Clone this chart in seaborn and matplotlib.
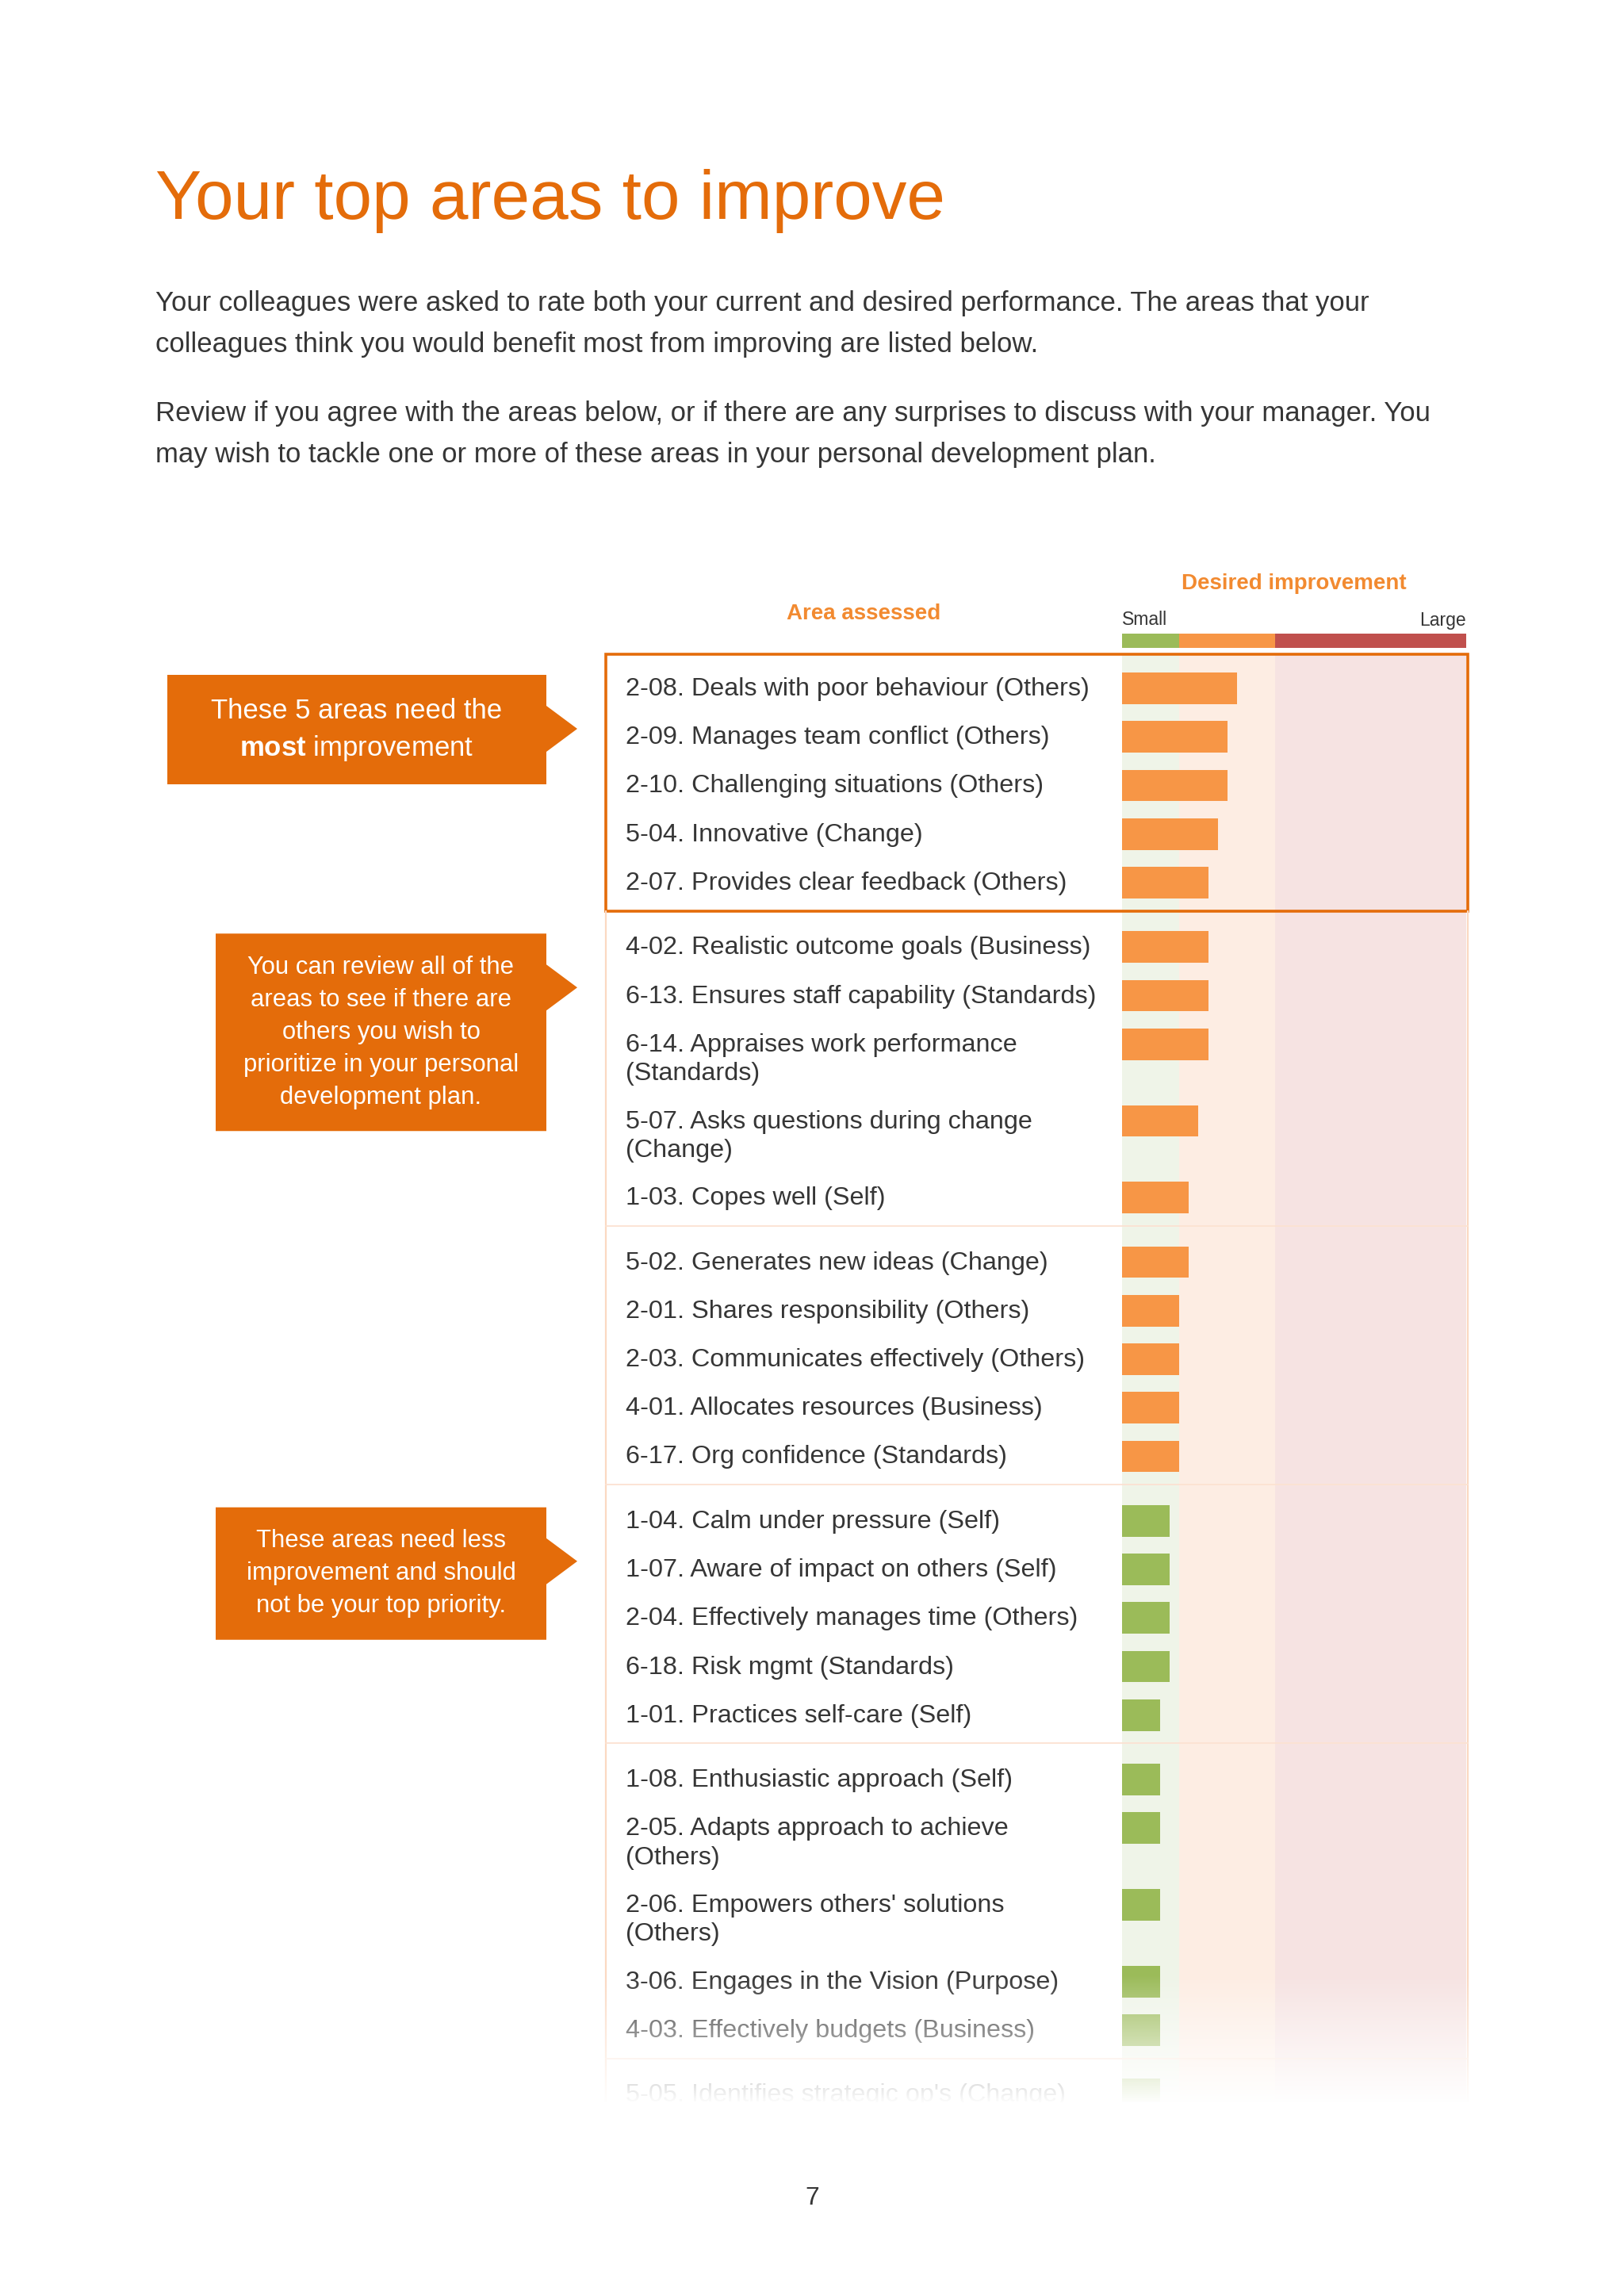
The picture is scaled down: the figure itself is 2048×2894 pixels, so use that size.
import matplotlib.pyplot as plt
import numpy as np
import pandas as pd
import seaborn as sns
from matplotlib.patches import Polygon, Rectangle

sns.set_theme(style='white')
plt.rcParams['font.family'] = ['Liberation Sans', 'DejaVu Sans']
plt.rcParams['mathtext.fontset'] = 'custom'
plt.rcParams['mathtext.rm'] = 'Liberation Sans'
plt.rcParams['mathtext.bf'] = 'Liberation Sans:bold'

# colours (office theme)
ORANGE = '#E46C0A'
HEADER = '#F28A30'
TEXT = '#363636'
BAR_COLOURS = {'small': '#9BBB59', 'medium': '#F79646', 'large': '#C0504D'}
BAND_TINTS = ['#EFF4E8', '#FDEDE3', '#F6E3E2']

# 1. data
title = 'Your top areas to improve'
intro = [
    'Your colleagues were asked to rate both your current and desired performance. The areas that your',
    'colleagues think you would benefit most from improving are listed below.',
    'Review if you agree with the areas below, or if there are any surprises to discuss with your manager. You',
    'may wish to tackle one or more of these areas in your personal development plan.',
]

areas = [
    '2-08. Deals with poor behaviour (Others)',
    '2-09. Manages team conflict (Others)',
    '2-10. Challenging situations (Others)',
    '5-04. Innovative (Change)',
    '2-07. Provides clear feedback (Others)',
    '4-02. Realistic outcome goals (Business)',
    '6-13. Ensures staff capability (Standards)',
    '6-14. Appraises work performance\n(Standards)',
    '5-07. Asks questions during change\n(Change)',
    '1-03. Copes well (Self)',
    '5-02. Generates new ideas (Change)',
    '2-01. Shares responsibility (Others)',
    '2-03. Communicates effectively (Others)',
    '4-01. Allocates resources (Business)',
    '6-17. Org confidence (Standards)',
    '1-04. Calm under pressure (Self)',
    '1-07. Aware of impact on others (Self)',
    '2-04. Effectively manages time (Others)',
    '6-18. Risk mgmt (Standards)',
    '1-01. Practices self-care (Self)',
    '1-08. Enthusiastic approach (Self)',
    '2-05. Adapts approach to achieve\n(Others)',
    "2-06. Empowers others' solutions\n(Others)",
    '3-06. Engages in the Vision (Purpose)',
    '4-03. Effectively budgets (Business)',
    "5-05. Identifies strategic op's (Change)",
]
improvement = [
    1.2, 1.1, 1.1, 1.0, 0.9,
    0.9, 0.9, 0.9, 0.8, 0.7,
    0.7, 0.6, 0.6, 0.6, 0.6,
    0.5, 0.5, 0.5, 0.5, 0.4,
    0.4, 0.4, 0.4, 0.4, 0.4,
    0.4,
]
group = [1] * 5 + [2] * 5 + [3] * 5 + [4] * 5 + [5] * 5 + [6]

band_edges = [0, 0.6, 1.6, 3.6]
band_names = ['small', 'medium', 'large']
scale_labels = ['Small', 'Large']

callouts = [
    ['These 5 areas need the', r'$\mathbf{most}$ improvement'],
    ['You can review all of the', 'areas to see if there are', 'others you wish to',
     'prioritize in your personal', 'development plan.'],
    ['These areas need less', 'improvement and should', 'not be your top priority.'],
]
callout_rows = [0, 5, 15]
page_number = '7'

# 2. layout (page pixels)
W, H = 2048, 2894
TABLE_LEFT, TABLE_RIGHT = 764, 1851
SCALE_LEFT, SCALE_RIGHT = 1415, 1849
TABLE_TOP, TABLE_CUT = 825, 2652
FIRST_ROW = 868
PITCH = 61.25
LINE_EXTRA = 35.5
GROUP_GAP = 20
TEXT_LINE = 36.5

row_y = []
separators = []
y = FIRST_ROW
for i, (label, g) in enumerate(zip(areas, group)):
    if i > 0 and g != group[i - 1]:
        separators.append(y - PITCH / 2 + 5)
        y += GROUP_GAP
    row_y.append(y)
    y += PITCH + LINE_EXTRA * label.count('\n')

df = pd.DataFrame({
    'area': areas,
    'improvement': improvement,
    'row_y': row_y,
    'band': pd.cut(improvement, band_edges, right=False, labels=band_names),
})

# 3. figure
fig = plt.figure(figsize=(W / 100, H / 100), dpi=100)
page = fig.add_axes([0, 0, 1, 1])
page.set_xlim(0, W)
page.set_ylim(H, 0)
page.axis('off')

page.text(196, 276, title, fontsize=62.8, color=ORANGE, va='baseline')
for line, base in zip(intro, [392, 444, 531, 583]):
    page.text(196, base, line, fontsize=25, color=TEXT, va='baseline')

# column headers
page.text((TABLE_LEFT + SCALE_LEFT) / 2, 774, 'Area assessed', ha='center', va='center',
          fontsize=20, weight='bold', color=HEADER)
page.text((SCALE_LEFT + SCALE_RIGHT) / 2, 736, 'Desired improvement', ha='center',
          va='center', fontsize=20, weight='bold', color=HEADER)
page.text(SCALE_LEFT, 782, scale_labels[0], ha='left', va='center', fontsize=16.5, color=TEXT)
page.text(SCALE_RIGHT, 782, scale_labels[1], ha='right', va='center', fontsize=16.5, color=TEXT)

# row labels
for label, ry in zip(areas, row_y):
    for k, part in enumerate(label.split('\n')):
        page.text(789, ry + 1 + k * TEXT_LINE, part, fontsize=23.3, color=TEXT, va='center')

# callout boxes
callout_left = [211, 272, 272]
callout_size = [25, 22.3, 22.3]
callout_step = [47, 41, 41]
BOX_RIGHT, ARROW_TIP = 689, 728
for lines, row, left, size, step in zip(callouts, callout_rows, callout_left,
                                        callout_size, callout_step):
    top_y = row_y[row] - 17
    h = len(lines) * step + 44
    ay = top_y + 68
    page.add_patch(Polygon(
        [(left, top_y), (BOX_RIGHT, top_y), (BOX_RIGHT, ay - 29), (ARROW_TIP, ay),
         (BOX_RIGHT, ay + 29), (BOX_RIGHT, top_y + h), (left, top_y + h)],
        closed=True, facecolor=ORANGE, edgecolor='none'))
    cx = (left + BOX_RIGHT) / 2
    for k, line in enumerate(lines):
        page.text(cx, top_y + h / 2 + (k - (len(lines) - 1) / 2) * step, line,
                  ha='center', va='center', fontsize=size, color='white')

page.text(W / 2, 2772, page_number, ha='center', va='center', fontsize=23, color=TEXT)

# bar area
ax = fig.add_axes([SCALE_LEFT / W, 1 - TABLE_CUT / H, (SCALE_RIGHT - SCALE_LEFT) / W,
                   (TABLE_CUT - 780) / H])
for lo, hi, name, tint in zip(band_edges[:-1], band_edges[1:], band_names, BAND_TINTS):
    ax.add_patch(Rectangle((lo, TABLE_TOP), hi - lo, TABLE_CUT - TABLE_TOP,
                           facecolor=tint, edgecolor='none', zorder=0))
    ax.add_patch(Rectangle((lo, 799), hi - lo, 18, facecolor=BAR_COLOURS[name],
                           edgecolor='none', zorder=0))

sns.barplot(data=df, x='improvement', y='row_y', hue='band', palette=BAR_COLOURS,
            orient='h', native_scale=True, width=0.645, saturation=1, errorbar=None,
            dodge=False, legend=False, linewidth=0, ax=ax)
ax.set_xlim(band_edges[0], band_edges[-1])
ax.set_ylim(TABLE_CUT, 780)
ax.axis('off')

# frame, separators and the fade at the bottom
top = fig.add_axes([0, 0, 1, 1], zorder=3)
top.axis('off')
top.add_patch(Rectangle((TABLE_LEFT, TABLE_TOP), TABLE_RIGHT - TABLE_LEFT,
                        separators[0] - TABLE_TOP, fill=False, edgecolor=ORANGE, lw=2.6))
for x in (TABLE_LEFT, TABLE_RIGHT):
    top.plot([x, x], [separators[0], TABLE_CUT], color='#FBD9C2', lw=1.6)
for s in separators[1:]:
    top.plot([TABLE_LEFT, TABLE_RIGHT], [s, s], color='#FCE2D2', lw=1.3)

fade = np.ones((256, 1, 4))
fade[:, 0, 3] = np.linspace(0, 1, 256)
top.imshow(fade, extent=[TABLE_LEFT - 20, TABLE_RIGHT + 20, TABLE_CUT, 2490],
           aspect='auto', interpolation='bilinear', zorder=5)
top.add_patch(Rectangle((TABLE_LEFT - 20, TABLE_CUT - 1), TABLE_RIGHT - TABLE_LEFT + 40, 60,
                        facecolor='white', edgecolor='none', zorder=6))
top.set_xlim(0, W)
top.set_ylim(H, 0)

fig.savefig('out.png', dpi=100)
